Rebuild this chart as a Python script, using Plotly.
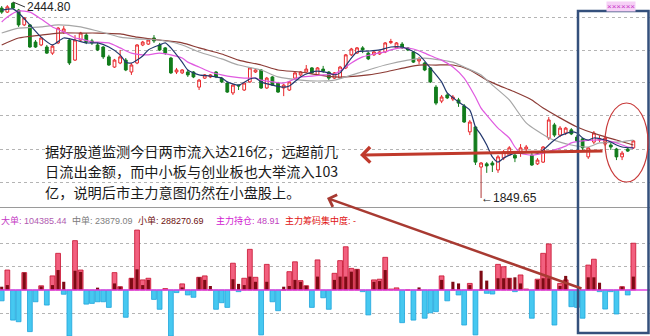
import plotly.graph_objects as go

W, H = 650, 336

# ---------------- data ----------------
idx = list(range(113))
opens = [2424, 2410, 2441, 2417, 2366, 2366, 2307, 2297, 2290, 2269,
         2304, 2342, 2314, 2245, 2314, 2331, 2311, 2297, 2290, 2256,
         2221, 2235, 2245, 2204, 2235, 2297, 2300, 2321, 2297, 2287,
         2252, 2204, 2201, 2204, 2204, 2152, 2183, 2187, 2204, 2183,
         2166, 2132, 2159, 2142, 2170, 2204, 2211, 2149, 2187, 2166,
         2149, 2142, 2183, 2194, 2204, 2218, 2194, 2214, 2204, 2183,
         2183, 2218, 2263, 2269, 2287, 2269, 2263, 2266, 2273, 2305,
         2287, 2300, 2287, 2273, 2242, 2235, 2218, 2152, 2104, 2125,
         2111, 2108, 2087, 1998, 2015, 1877, 1888, 1891, 1867, 1908,
         1918, 1918, 1925, 1939, 1918, 1888, 1894, 1977, 2022, 1987,
         1994, 2005, 1980, 1974, 1912, 1963, 1970, 1956, 1953, 1939,
         1912, 1939, 1943]
highs = [2431, 2434, 2444.8, 2421, 2393, 2369, 2314, 2324, 2297, 2297,
         2359, 2362, 2321, 2331, 2342, 2338, 2318, 2304, 2293, 2263,
         2249, 2280, 2252, 2235, 2300, 2311, 2318, 2331, 2304, 2290,
         2256, 2218, 2214, 2211, 2207, 2180, 2197, 2197, 2207, 2187,
         2170, 2163, 2160, 2170, 2221, 2214, 2214, 2187, 2190, 2170,
         2163, 2173, 2204, 2207, 2228, 2221, 2221, 2225, 2207, 2204,
         2225, 2266, 2287, 2290, 2293, 2273, 2276, 2276, 2307, 2318,
         2307, 2307, 2290, 2276, 2256, 2238, 2221, 2159, 2125, 2132,
         2125, 2115, 2094, 2039, 2018, 1894, 1894, 1898, 1918, 1936,
         1949, 1929, 1956, 1953, 1925, 1908, 1949, 2049, 2029, 2018,
         2015, 2011, 1987, 1977, 1946, 2001, 1984, 1980, 1960, 1943,
         1932, 1943, 1970]
lows = [2404, 2407, 2421, 2359, 2362, 2287, 2287, 2293, 2266, 2263,
        2300, 2335, 2228, 2242, 2311, 2300, 2297, 2276, 2249, 2225,
        2218, 2231, 2207, 2194, 2231, 2293, 2297, 2304, 2276, 2263,
        2197, 2197, 2197, 2187, 2183, 2142, 2180, 2183, 2183, 2166,
        2132, 2125, 2142, 2139, 2166, 2201, 2146, 2146, 2156, 2132,
        2121, 2139, 2180, 2190, 2201, 2197, 2190, 2201, 2176, 2180,
        2180, 2214, 2259, 2266, 2269, 2245, 2259, 2263, 2269, 2300,
        2283, 2283, 2276, 2235, 2231, 2207, 2166, 2090, 2097, 2111,
        2104, 2084, 2029, 1987, 1884, 1849.65, 1857, 1860, 1857, 1901,
        1915, 1894, 1912, 1929, 1881, 1884, 1891, 1970, 1980, 1980,
        1987, 1987, 1963, 1936, 1905, 1956, 1963, 1949, 1936, 1901,
        1901, 1929, 1939]
closes = [2410, 2428, 2424, 2366, 2390, 2290, 2290, 2321, 2269, 2293,
          2355, 2352, 2235, 2314, 2338, 2307, 2304, 2280, 2256, 2228,
          2245, 2256, 2211, 2228, 2297, 2307, 2314, 2311, 2280, 2269,
          2201, 2211, 2211, 2194, 2187, 2176, 2194, 2194, 2187, 2170,
          2135, 2159, 2156, 2166, 2218, 2211, 2149, 2183, 2159, 2135,
          2159, 2170, 2201, 2204, 2214, 2201, 2218, 2207, 2183, 2201,
          2221, 2263, 2283, 2287, 2280, 2249, 2273, 2273, 2304, 2309,
          2304, 2287, 2280, 2238, 2249, 2211, 2170, 2097, 2118, 2115,
          2118, 2097, 2032, 2032, 1894, 1891, 1881, 1884, 1912, 1929,
          1943, 1908, 1943, 1946, 1884, 1901, 1946, 2039, 1987, 2011,
          2011, 1991, 1967, 1943, 1943, 1994, 1974, 1977, 1946, 1912,
          1925, 1932, 1967]

# moving-average lines (candle index, value)
ma5_x = [0, 2, 3, 5, 7, 9, 11, 13, 15, 17, 19, 21, 22, 23, 25, 26, 28, 29, 30, 32, 33, 35, 37, 39, 40,
         42, 44, 45, 46, 48, 50, 51, 53, 55, 56, 58, 59, 60, 62, 63, 65, 67, 69, 71, 72, 74, 76, 78, 79,
         81, 83, 84, 85, 86, 87, 88, 89, 90, 91, 92, 94, 95, 96, 97, 98, 99, 101, 102, 103, 104, 105,
         107, 108, 109, 110, 112]
ma5_y = [2417, 2421, 2407, 2366, 2324, 2297, 2321, 2314, 2304, 2304, 2290, 2263, 2238, 2235, 2259, 2280,
         2297, 2304, 2287, 2238, 2211, 2194, 2190, 2183, 2170, 2159, 2180, 2183, 2170, 2159, 2152, 2156,
         2187, 2204, 2207, 2201, 2194, 2201, 2252, 2273, 2276, 2280, 2290, 2290, 2283, 2263, 2218, 2170,
         2132, 2101, 2073, 2015, 1987, 1953, 1912, 1894, 1908, 1918, 1925, 1925, 1929, 1925, 1936, 1953,
         1970, 1984, 1998, 1994, 1977, 1970, 1977, 1970, 1963, 1953, 1946, 1943]
ma10_x = [0, 1, 3, 5, 7, 9, 11, 13, 14, 16, 17, 19, 21, 23, 25, 26, 28, 30, 32, 33, 35, 37, 39, 41, 43,
          45, 46, 48, 50, 52, 53, 55, 57, 59, 61, 62, 64, 66, 68, 69, 71, 73, 75, 77, 78, 80, 82, 84, 85,
          86, 88, 90, 91, 92, 94, 96, 98, 100, 101, 103, 105, 107, 109, 111, 112]
ma10_y = [2376, 2393, 2414, 2410, 2386, 2359, 2342, 2321, 2318, 2307, 2307, 2304, 2287, 2269, 2263, 2263,
          2269, 2263, 2252, 2238, 2221, 2204, 2194, 2187, 2183, 2183, 2176, 2170, 2166, 2180, 2187, 2190,
          2194, 2197, 2221, 2235, 2256, 2266, 2273, 2280, 2287, 2283, 2269, 2252, 2245, 2221, 2183, 2118,
          2080, 2056, 2011, 1977, 1946, 1925, 1918, 1925, 1936, 1949, 1960, 1967, 1970, 1970, 1960, 1946,
          1943]
ma20_x = [0, 3, 7, 10, 14, 17, 21, 24, 28, 32, 35, 39, 42, 46, 49, 53, 56, 59, 61, 65, 68, 72, 75, 78,
          80, 82, 85, 87, 90, 93, 97, 99, 101, 104, 106, 109, 112]
ma20_y = [2338, 2355, 2359, 2366, 2359, 2345, 2324, 2318, 2314, 2297, 2273, 2249, 2228, 2211, 2187, 2176,
          2173, 2176, 2187, 2211, 2228, 2245, 2252, 2245, 2238, 2221, 2194, 2159, 2108, 2029, 1977, 1963,
          1953, 1946, 1960, 1963, 1970]
ma60_x = [0, 3, 7, 10, 14, 17, 21, 24, 28, 32, 35, 39, 42, 46, 49, 53, 56, 59, 61, 65, 68, 72, 74, 77,
          80, 83, 86, 88, 91, 94, 96, 102, 106, 109, 112]
ma60_y = [2297, 2321, 2331, 2338, 2338, 2338, 2335, 2324, 2314, 2304, 2287, 2266, 2245, 2228, 2211, 2204,
          2194, 2187, 2187, 2194, 2204, 2221, 2228, 2228, 2228, 2211, 2176, 2159, 2135, 2108, 2080, 2015,
          1987, 1970, 1953]

# fund-flow bars (net large orders and extra-large orders)
flow_main = [-4.6, 8.5, -12.8, -13.5, 7.4, -17.7, -5.0, 1.8, -6.4, 6.0,
             15.6, -1.8, -19.6, 21.0, 8.5, -6.0, -5.7, -5.0, -5.0, -7.4,
             7.4, 1.4, -11.6, 5.0, 25.5, 4.3, 5.0, -4.0, -8.2, 0.6,
             -19.6, -1.1, 2.6, -2.1, -3.1, 5.4, 6.0, 0, -8.2, -5.4,
             -7.4, 11.4, -0.7, 5.0, 17.3, 5.4, -19.1, 10.9, -5.0, -8.8,
             0, 7.8, 12.0, 4.0, 1.8, -7.4, 12.8, -3.3, -8.2, 7.1,
             12.5, 18.4, 9.2, 8.8, -0.7, -10.6, 4.3, 4.6, 13.9, 0.4,
             0.9, -13.9, 0, -12.8, 0, -12.0, -9.7, -9.2, 6.0, -4.6,
             0, -2.1, -14.9, 2.8, -19.1, 0, -1.4, -1.7, 10.9, 9.9,
             5.0, -0.7, 6.4, 0.4, -12.0, 4.6, 15.6, 19.6, -14.9, 2.8,
             4.3, -7.1, -7.4, -12.0, 10.6, 13.1, -0.7, -8.1, -0.7, -10.2,
             1.4, -2.1, 19.9]
flow_super = [1.4, 2.1, 0, 0, 7.4, 0, 0, 1.5, 0, 2.1,
              8.5, 3.5, 0, 8.2, 7.7, 0, 0, 1.0, 0, 0,
              2.8, 1.4, 0, 5.0, 8.8, 2.1, 4.3, 0, 0, 0,
              0, 0, 1.1, 0, 0, 5.4, 4.3, 1.7, 0, 0,
              0, 4.6, 2.6, 2.1, 5.7, 3.5, 0, 3.5, 0, 0,
              1.4, 1.7, 4.3, 3.5, 1.8, 0, 5.7, 0, 0, 4.3,
              5.7, 5.7, 7.8, 8.8, 0, 0, 3.5, 3.8, 8.5, 0,
              0, 0, 0, 0, 1.1, 0, 0, 0, 4.3, 0,
              3.5, 2.8, 0, 2.1, 0, 8.2, 4.0, 0, 5.0, 5.0,
              5.0, 5.4, 2.8, 0, 0, 4.3, 5.0, 5.0, 0, 1.7,
              6.0, 0, 0, 0, 5.4, 5.4, 3.1, 0, 0, 0,
              1.4, 0, 5.7]

flow_labels = ["大单", "中单", "小单", "主力持仓", "主力筹码集中度"]
flow_values = ["104385.44", "23879.09", "288270.69", "48.91", "-"]

note_lines = ["据好股道监测今日两市流入达216亿，远超前几",
              "日流出金额，而中小板与创业板也大举流入103",
              "亿，说明后市主力意图仍然在小盘股上。"]
high_label = "2444.80"
low_label = "←1849.65"

# ---------------- layout helpers ----------------
def px(x):
    return x / W

def py(y):
    return 1 - y / H

X_RANGE = [-0.301, 114.95]
Y_TOP, Y_BOT = 2451.7, 1739.6      # upper panel covers pixel rows 0..207
Y2_TOP, Y2_BOT = 34.04, -19.57     # lower panel covers pixel rows 210..336

fig = go.Figure()

fig.add_trace(go.Candlestick(
    x=idx, open=opens, high=highs, low=lows, close=closes,
    increasing=dict(line=dict(color="#e8262a", width=1), fillcolor="#ffffff"),
    decreasing=dict(line=dict(color="#127c1c", width=1), fillcolor="#127c1c"),
    whiskerwidth=0, xaxis="x", yaxis="y", showlegend=False, hoverinfo="skip"))

for xs, ys, col in [(ma60_x, ma60_y, "#8c3b35"), (ma20_x, ma20_y, "#a6a6a6"),
                    (ma10_x, ma10_y, "#e05ae0"), (ma5_x, ma5_y, "#23386e")]:
    fig.add_trace(go.Scatter(x=xs, y=ys, mode="lines", line=dict(color=col, width=1.2, shape="spline", smoothing=0.6),
                             xaxis="x", yaxis="y", showlegend=False, hoverinfo="skip"))

main_fill = ["#f2607f" if v >= 0 else "#46c8f0" for v in flow_main]
main_line = ["#c8102e" if v >= 0 else "#1ea4dc" for v in flow_main]
fig.add_trace(go.Bar(x=idx, y=flow_main, width=0.85,
                     marker=dict(color=main_fill, line=dict(color=main_line, width=0.8)),
                     xaxis="x2", yaxis="y2", showlegend=False, hoverinfo="skip"))
fig.add_trace(go.Bar(x=idx, y=flow_super, width=0.55,
                     marker=dict(color="#7e0a14", line=dict(width=0)),
                     xaxis="x2", yaxis="y2", showlegend=False, hoverinfo="skip"))

grid_prices = [2393.2, 2279.7, 2166.2, 2052.7, 1939.1, 1822.2]

fig.update_layout(
    width=W, height=H, margin=dict(l=0, r=0, t=0, b=0),
    paper_bgcolor="white", plot_bgcolor="white",
    barmode="overlay", boxgap=0.3,
    xaxis=dict(domain=[0, 1], range=X_RANGE, visible=False, rangeslider=dict(visible=False), fixedrange=True),
    yaxis=dict(domain=[1 - 207 / H, 1], range=[Y_BOT, Y_TOP], showticklabels=False, zeroline=False,
               tickvals=grid_prices, showgrid=True, gridcolor="#b4b4b4", griddash="dot", gridwidth=1,
               ticks=""),
    xaxis2=dict(domain=[0, 1], range=X_RANGE, visible=False, anchor="y2"),
    yaxis2=dict(domain=[0, (H - 210) / H], range=[Y2_BOT, Y2_TOP], showticklabels=False, zeroline=False,
                tickvals=[20, 10, -10], showgrid=True, gridcolor="#b4b4b4", griddash="dot", gridwidth=1,
                ticks="", anchor="x2"),
)

shapes = []
# panel separator
shapes.append(dict(type="line", xref="paper", yref="paper", x0=0, x1=1, y0=py(207.5), y1=py(207.5),
                   line=dict(color="#9a9a9a", width=1)))
# zero line of the flow panel
shapes.append(dict(type="line", xref="paper", yref="y2", x0=0, x1=1, y0=0, y1=0,
                   line=dict(color="#e040e0", width=1.5), layer="above"))
# low pointer
y_low_lab = Y_BOT + (207 - 198) / 207 * (Y_TOP - Y_BOT)
shapes.append(dict(type="line", xref="x", yref="y", x0=85, x1=85, y0=min(lows), y1=y_low_lab,
                   line=dict(color="#b03838", width=1)))
# blue highlight box
shapes.append(dict(type="rect", xref="paper", yref="paper", x0=px(578), x1=px(648.5), y0=py(333), y1=py(11),
                   line=dict(color="#34507c", width=2.5), layer="above"))
# red ellipse
shapes.append(dict(type="circle", xref="paper", yref="paper", x0=px(605), x1=px(648), y0=py(182), y1=py(103),
                   line=dict(color="#c83a3a", width=1.2), layer="above"))
fig.update_layout(shapes=shapes)

ann = []
# arrows
ann.append(dict(xref="paper", yref="paper", x=px(360), y=py(155), ax=244, ay=-4, axref="pixel", ayref="pixel",
                text="", showarrow=True, arrowhead=4, arrowsize=1, arrowwidth=3, arrowcolor="#c0392b"))
ann.append(dict(xref="paper", yref="paper", x=px(327), y=py(198), ax=256, ay=91, axref="pixel", ayref="pixel",
                text="", showarrow=True, arrowhead=4, arrowsize=1, arrowwidth=2.5, arrowcolor="#a83a32"))
# high label
ann.append(dict(x=2, y=max(highs), xref="x", yref="y", text=high_label, showarrow=True, arrowhead=0,
                arrowwidth=1, arrowcolor="#333", ax=12, ay=5, xanchor="left", yanchor="middle",
                font=dict(family="Liberation Sans, Arial", size=12, color="#222")))
# low label
ann.append(dict(x=85, y=py(198), xref="x", yref="paper", text=low_label, showarrow=False,
                xanchor="left", yanchor="middle", xshift=-2,
                font=dict(family="Liberation Sans, Arial", size=12, color="#222")))
# note text, three lines
for k, line in enumerate(note_lines):
    ann.append(dict(x=px(44), y=py(150.5 + 20.6 * k), xref="paper", yref="paper", text=line,
                    showarrow=False, xanchor="left", yanchor="middle", borderpad=0,
                    font=dict(family="Noto Sans CJK SC", size=14.2, color="#1a1a1a")))
# flow header
hdr_x = [0, 71, 137, 215, 284]
hdr_lab_col = ["#c43ac4", "#7a7a7a", "#6e1010", "#d020d0", "#e01010"]
hdr_val_col = ["#b05ab0", "#808080", "#6e1010", "#c040c0", "#e01010"]
for lab, val, x0, c1, c2 in zip(flow_labels, flow_values, hdr_x, hdr_lab_col, hdr_val_col):
    ann.append(dict(x=px(x0), y=py(220), xref="paper", yref="paper",
                    text=f"<span style='color:{c1}'>{lab}:</span> <span style='color:{c2}'>{val}</span>",
                    showarrow=False, xanchor="left", yanchor="middle", borderpad=0,
                    font=dict(family="Liberation Sans, Noto Sans CJK SC", size=9)))
# top marker
ann.append(dict(x=px(621), y=py(6), xref="paper", yref="paper", text="××××××", showarrow=False,
                xanchor="center", yanchor="middle", bgcolor="#f6d0f6",
                font=dict(family="Liberation Sans", size=8, color="#c838c8"), borderpad=0))
fig.update_layout(annotations=ann)

fig.write_html("out.html")
